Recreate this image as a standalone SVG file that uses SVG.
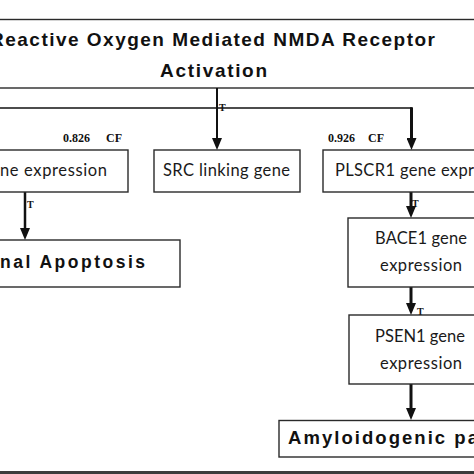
<svg xmlns="http://www.w3.org/2000/svg" width="474" height="474" viewBox="0 0 474 474">
<style>
.box{fill:#fff;stroke:#2a2a2a;stroke-width:1.4}
.lbl{font-family:Lato,"Open Sans","Liberation Sans",sans-serif;font-size:16.5px;fill:#1a1a1a}
.bold{font-family:"Liberation Sans",Arial,sans-serif;font-weight:bold;fill:#111}
.ser{font-family:"Liberation Serif","Times New Roman",serif;font-weight:bold;fill:#111;font-size:12px}
.t{font-family:"Liberation Serif","Times New Roman",serif;font-weight:bold;fill:#111;font-size:10px}
.ln{stroke:#111;fill:none}
</style>
<defs>
<marker id="ah" markerUnits="userSpaceOnUse" markerWidth="12" markerHeight="10" refX="2" refY="5" orient="auto">
<path d="M0,0 L12,5 L0,10 z" fill="#111"/>
</marker>
</defs>
<rect x="0" y="0" width="474" height="474" fill="#fff"/>
<rect x="0" y="471" width="474" height="3" fill="#3c3c3c"/>

<g id="title">
<rect class="box" x="-2" y="19.5" width="480" height="68.5"/>
<text class="bold" x="-10" y="46" font-size="19" textLength="445" lengthAdjust="spacing">Reactive Oxygen Mediated NMDA Receptor</text>
<text class="bold" x="160" y="77" font-size="19" textLength="107" lengthAdjust="spacing">Activation</text>
</g>

<g id="connectors">
<line class="ln" x1="-2" y1="108" x2="412" y2="108" stroke-width="1.4"/>
<line class="ln" x1="217" y1="88" x2="217" y2="140" stroke-width="2" marker-end="url(#ah)"/>
<line class="ln" x1="411.5" y1="107.3" x2="411.5" y2="140" stroke-width="3" marker-end="url(#ah)"/>
<line class="ln" x1="25" y1="192" x2="25" y2="230" stroke-width="2.5" marker-end="url(#ah)"/>
<line class="ln" x1="411" y1="192" x2="411" y2="208" stroke-width="3" marker-end="url(#ah)"/>
<line class="ln" x1="411" y1="287" x2="411" y2="305" stroke-width="3" marker-end="url(#ah)"/>
<line class="ln" x1="411" y1="384" x2="411" y2="410" stroke-width="3" marker-end="url(#ah)"/>
<text class="t" x="219" y="111">T</text>
<text class="t" x="27" y="208">T</text>
<text class="t" x="412" y="207">T</text>
<text class="t" x="417" y="315">T</text>
<text class="ser" x="63" y="142">0.826</text>
<text class="ser" x="106" y="142">CF</text>
<text class="ser" x="328" y="142">0.926</text>
<text class="ser" x="368" y="142">CF</text>
</g>

<g id="node-left-gene">
<rect class="box" x="-2" y="150" width="130" height="42"/>
<text class="lbl" x="0" y="176" textLength="107" lengthAdjust="spacing">ne expression</text>
</g>
<g id="node-src">
<rect class="box" x="154" y="150" width="146" height="42"/>
<text class="lbl" x="163" y="176" textLength="127" lengthAdjust="spacing">SRC linking gene</text>
</g>
<g id="node-plscr1">
<rect class="box" x="323" y="150" width="155" height="42"/>
<text class="lbl" x="335" y="176" textLength="139" lengthAdjust="spacing">PLSCR1 gene expr</text>
</g>
<g id="node-apoptosis">
<rect class="box" x="-2" y="240" width="182" height="47"/>
<text class="bold" x="0" y="268" font-size="17.5" textLength="145" lengthAdjust="spacing">nal Apoptosis</text>
</g>
<g id="node-bace1">
<rect class="box" x="348" y="218" width="130" height="69"/>
<text class="lbl" x="375" y="244" textLength="92" lengthAdjust="spacing">BACE1 gene</text>
<text class="lbl" x="380" y="271" textLength="82" lengthAdjust="spacing">expression</text>
</g>
<g id="node-psen1">
<rect class="box" x="349" y="315" width="129" height="69"/>
<text class="lbl" x="375" y="342" textLength="90" lengthAdjust="spacing">PSEN1 gene</text>
<text class="lbl" x="380" y="369" textLength="82" lengthAdjust="spacing">expression</text>
</g>
<g id="node-amyloid">
<rect class="box" x="279" y="420.5" width="199" height="36.5"/>
<text class="bold" x="288" y="444" font-size="18.5" textLength="190" lengthAdjust="spacing">Amyloidogenic pa</text>
</g>
</svg>
